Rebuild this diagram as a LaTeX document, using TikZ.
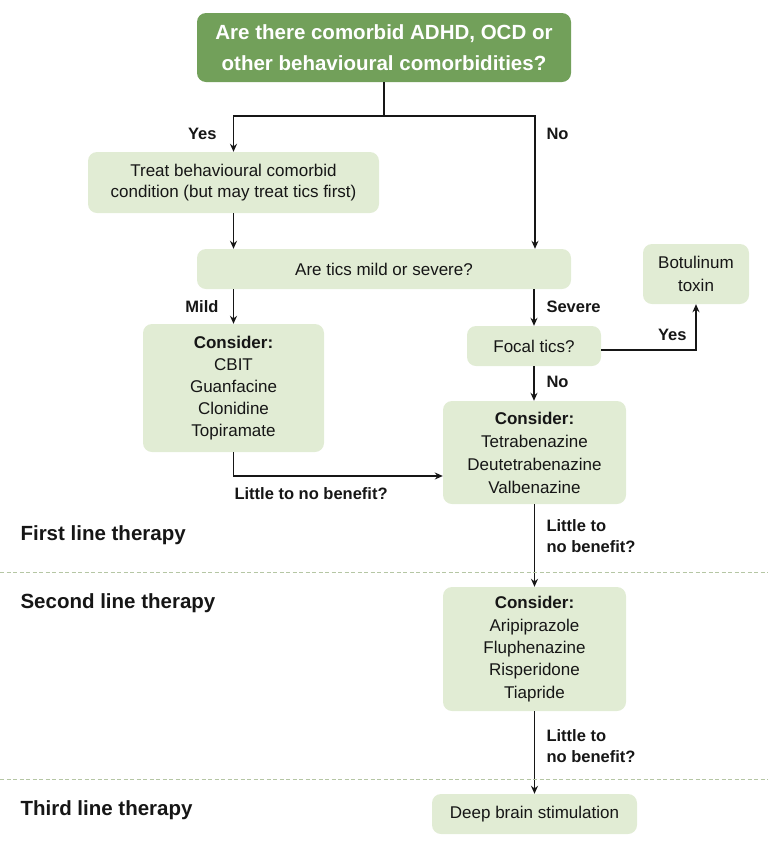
\documentclass[tikz,border=0pt]{standalone}
\usepackage{fontspec}
\setmainfont{Liberation Sans}
\usetikzlibrary{positioning,calc,arrows.meta}
\definecolor{darkgreen}{HTML}{72A05A}
\definecolor{palegreen}{HTML}{E1ECD4}
\definecolor{dashgreen}{HTML}{B5C6A4}
\definecolor{inkc}{HTML}{161616}

\begin{document}
\begin{tikzpicture}[
  x=1pt, y=-1pt,
  font=\fontsize{17}{22.5}\selectfont, >=Stealth,
  qbox/.style={fill=darkgreen, rounded corners=9pt, text=white, align=center,
               inner sep=0pt, font=\fontsize{20.5}{31}\selectfont\bfseries},
  stg/.style={fill=palegreen, rounded corners=9pt, align=center, inner sep=0pt, text=inkc},
  lbl/.style={font=\fontsize{16.5}{21}\selectfont\bfseries, align=left, text=inkc},
  phase/.style={font=\fontsize{20.5}{22}\selectfont\bfseries, anchor=west, text=inkc},
  fl/.style={-{Stealth[length=8pt,width=7pt]}, line width=1.6pt, inkc},
  ln/.style={line width=1.6pt, inkc},
  sep/.style={dashgreen, line width=1pt, dash pattern=on 4pt off 2.5pt},
]
  \useasboundingbox (0,0) rectangle (768,855);

  %=================== question ===================
  \node[qbox, minimum width=374pt, minimum height=69pt] (comorb) at (384,47.5)
       {Are there comorbid ADHD, OCD or\\other behavioural comorbidities?};
  \coordinate (split) at (384,116);
  \draw[ln] (comorb.south) -- (split);

  \node[stg, minimum width=291pt, minimum height=61pt, font=\fontsize{17}{21}\selectfont] (treat) at (233.5,182.5)
       {Treat behavioural comorbid\\condition (but may treat tics first)};
  \node[stg, minimum width=374pt, minimum height=40pt] (tics) at (384,269) {Are tics mild or severe?};

  \draw[fl] (split) -| (treat.north);
  \draw[fl] (split) -| ($(tics.north)+(151,0)$);
  \node[lbl, anchor=east] (yes1) at (220,134) {Yes};
  \node[lbl, anchor=west] (no1) at (543,134) {No};
  \draw[fl] (treat.south) -- (treat.south |- tics.north);

  %=================== mild branch ===================
  \node[stg, minimum width=181pt, minimum height=128pt, font=\fontsize{17}{22}\selectfont] (cons1) at (233.5,388)
       {\textbf{Consider:}\\CBIT\\Guanfacine\\Clonidine\\Topiramate};
  \draw[fl] (tics.south -| cons1.north) -- (cons1.north);
  \node[lbl, anchor=east] (mild) at (222,307) {Mild};

  %=================== severe branch ===================
  \node[stg, minimum width=134pt, minimum height=40pt] (focal) at (534,346) {Focal tics?};
  \node[stg, minimum width=106pt, minimum height=60pt, font=\fontsize{17}{23}\selectfont] (botox) at (696,274)
       {Botulinum\\toxin};
  \draw[fl] (tics.south -| focal.north) -- (focal.north);
  \node[lbl, anchor=west] (severe) at (543,307) {Severe};
  \draw[fl] ($(focal.east)+(0,4)$) -| (botox.south);
  \node[lbl, anchor=east] (yes2) at (690,335) {Yes};

  \node[stg, minimum width=183pt, minimum height=103pt, font=\fontsize{17}{23}\selectfont] (cons2) at (534.5,452.5)
       {\textbf{Consider:}\\Tetrabenazine\\Deutetrabenazine\\Valbenazine};
  \draw[fl] (focal.south) -- (focal.south |- cons2.north);
  \node[lbl, anchor=west] (no2) at (543,382) {No};

  \draw[fl] (cons1.south) |- ($(cons2.west)+(0,23.5)$);
  \node[lbl, anchor=west] (nob1) at (231,494) {Little to no benefit?};

  %=================== second / third line ===================
  \node[stg, minimum width=183pt, minimum height=124pt, font=\fontsize{17}{22.3}\selectfont] (cons3) at (534.5,649)
       {\textbf{Consider:}\\Aripiprazole\\Fluphenazine\\Risperidone\\Tiapride};
  \draw[fl] (cons2.south) -- (cons3.north);
  \node[lbl, anchor=west] (nob2) at (543,536) {Little to\\no benefit?};

  \node[stg, minimum width=205pt, minimum height=40pt] (dbs) at (534.5,814) {Deep brain stimulation};
  \draw[fl] (cons3.south) -- (cons3.south |- dbs.north);
  \node[lbl, anchor=west] (nob3) at (543,746) {Little to\\no benefit?};

  %=================== therapy lines ===================
  \draw[sep] (0,572) -- (768,572);
  \draw[sep] (0,779) -- (768,779);
  \node[phase] (first) at (17,535) {First line therapy};
  \node[phase] (second) at (17,603) {Second line therapy};
  \node[phase] (third) at (17,810) {Third line therapy};
\end{tikzpicture}
\end{document}
